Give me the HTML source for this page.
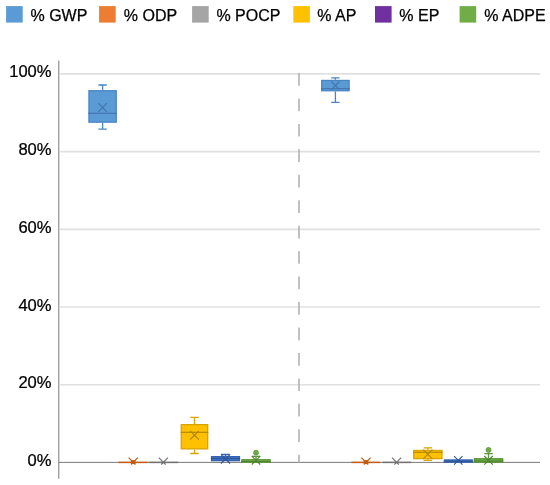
<!DOCTYPE html>
<html><head><meta charset="utf-8"><title>Chart</title>
<style>
html,body{margin:0;padding:0;background:#fff;}
svg{display:block;}
text{font-family:"Liberation Sans",Arial,sans-serif;font-size:16px;fill:#000;stroke:#000;stroke-width:0.25px;}
</style></head><body>
<svg width="550" height="485" viewBox="0 0 550 485">
<rect width="550" height="485" fill="#fff"/>
<rect x="6.1" y="6.1" width="16.6" height="16.5" fill="#5b9bd5"/>
<text x="30.5" y="20.7">% GWP</text>
<rect x="99.1" y="6.1" width="16.6" height="16.5" fill="#ed7d31"/>
<text x="123.8" y="20.7">% ODP</text>
<rect x="192.1" y="6.1" width="16.6" height="16.5" fill="#a5a5a5"/>
<text x="216.4" y="20.7">% POCP</text>
<rect x="293.3" y="6.1" width="16.6" height="16.5" fill="#ffc000"/>
<text x="317.3" y="20.7">% AP</text>
<rect x="375" y="6.1" width="16.6" height="16.5" fill="#7030a0"/>
<text x="399.3" y="20.7">% EP</text>
<rect x="459.6" y="6.1" width="16.6" height="16.5" fill="#70ad47"/>
<text x="484.2" y="20.7">% ADPE</text>
<line x1="60.2" x2="540" y1="73.85" y2="73.85" stroke="#e0e0e0" stroke-width="1.6"/>
<line x1="60.2" x2="540" y1="151.59" y2="151.59" stroke="#e0e0e0" stroke-width="1.6"/>
<line x1="60.2" x2="540" y1="229.33" y2="229.33" stroke="#e0e0e0" stroke-width="1.6"/>
<line x1="60.2" x2="540" y1="307.07" y2="307.07" stroke="#e0e0e0" stroke-width="1.6"/>
<line x1="60.2" x2="540" y1="384.81" y2="384.81" stroke="#e0e0e0" stroke-width="1.6"/>
<line x1="59" x2="540" y1="462.4" y2="462.4" stroke="#737373" stroke-width="0.95"/>
<line x1="58.8" x2="58.8" y1="60.5" y2="478.7" stroke="#737373" stroke-width="0.95"/>
<text transform="translate(51.5 77.30) scale(1.035 1.0)" text-anchor="end">100%</text>
<text transform="translate(51.5 155.04) scale(1.035 1.0)" text-anchor="end">80%</text>
<text transform="translate(51.5 232.78) scale(1.035 1.0)" text-anchor="end">60%</text>
<text transform="translate(51.5 310.52) scale(1.035 1.0)" text-anchor="end">40%</text>
<text transform="translate(51.5 388.26) scale(1.035 1.0)" text-anchor="end">20%</text>
<text transform="translate(51.5 466.00) scale(1.035 1.0)" text-anchor="end">0%</text>
<line x1="299" x2="299" y1="73" y2="462.4" stroke="#b2b2b2" stroke-width="1.6" stroke-dasharray="12.7 12.75"/>
<g stroke="#4a84c4" stroke-width="1.3" fill="none"><path d="M102.6 90.1V85M98.39999999999999 85H106.8"/><path d="M102.6 122.8V129.2M98.39999999999999 129.2H106.8"/><rect x="88.95" y="90.75" width="27.30" height="31.40" fill="#5b9bd5"/><path d="M88.3 113.3H116.89999999999999" stroke="#4273ad" stroke-width="1.1"/><path d="M98.3 103.2L106.89999999999999 111.8M106.89999999999999 103.2L98.3 111.8" stroke="#4273ad" stroke-width="1.1"/></g>
<g stroke="#c55a11" fill="none"><path d="M118.4 462.4H147.8" stroke-width="1.5"/><path d="M128.6 457.7L135.39999999999998 464.5M137.79999999999998 457.7L131.0 464.5" stroke-width="1.1"/><rect x="130.89999999999998" y="460.09999999999997" width="4.6" height="4" fill="#c55a11" stroke="none"/></g>
<g stroke="#707070" fill="none"><path d="M148.8 462.4H178.2" stroke-width="1.5"/><path d="M158.8 457.7L165.6 464.5M168.0 457.7L161.20000000000002 464.5" stroke-width="1.1"/></g>
<g stroke="#d9a300" stroke-width="1.3" fill="none"><path d="M194.5 424V417.4M190.3 417.4H198.7"/><path d="M194.5 449.5V453.5M190.3 453.5H198.7"/><rect x="181.30" y="424.65" width="26.40" height="24.20" fill="#ffc000"/><path d="M180.65 432.3H208.35" stroke="#b08600" stroke-width="1.1"/><path d="M190.2 430.9L198.8 439.5M198.8 430.9L190.2 439.5" stroke="#b08600" stroke-width="1.1"/></g>
<g stroke="#3563b0" stroke-width="1.3" fill="none"><path d="M225.5 456.0V454.5M221.3 454.5H229.7"/><rect x="211.55" y="456.65" width="27.90" height="4.00" fill="#4472c4"/><path d="M210.9 458.6H240.1" stroke="#2f5597" stroke-width="1.1"/><path d="M220.9 454.29999999999995L230.1 463.5M230.1 454.29999999999995L220.9 463.5" stroke="#2f5597" stroke-width="1.1"/></g>
<g stroke="#5a9636" stroke-width="1.3" fill="none"><path d="M256 459.1V456.4M251.8 456.4H260.2"/><rect x="241.90" y="459.75" width="28.20" height="2.40" fill="#70ad47"/><path d="M241.25 461.5H270.75" stroke="#4e8530" stroke-width="1.1"/><path d="M251.8 456.1L260.2 464.5M260.2 456.1L251.8 464.5" stroke="#4e8530" stroke-width="1.1"/></g><circle cx="256" cy="452.7" r="2.5" fill="#70ad47" stroke="#5a9636" stroke-width="0.8"/>
<g stroke="#4a84c4" stroke-width="1.3" fill="none"><path d="M335.4 79.8V77.8M331.2 77.8H339.59999999999997"/><path d="M335.4 91.4V102.3M331.2 102.3H339.59999999999997"/><rect x="321.70" y="80.45" width="27.40" height="10.30" fill="#5b9bd5"/><path d="M321.04999999999995 88.7H349.75" stroke="#4273ad" stroke-width="1.1"/><path d="M331.29999999999995 81.5L339.5 89.69999999999999M339.5 81.5L331.29999999999995 89.69999999999999" stroke="#4273ad" stroke-width="1.1"/></g>
<g stroke="#c55a11" fill="none"><path d="M351.4 462.4H380.2" stroke-width="1.5"/><path d="M361.4 457.7L368.2 464.5M370.6 457.7L363.8 464.5" stroke-width="1.1"/><rect x="363.7" y="460.09999999999997" width="4.6" height="4" fill="#c55a11" stroke="none"/></g>
<g stroke="#707070" fill="none"><path d="M382.4 462.4H411.2" stroke-width="1.5"/><path d="M392.0 457.7L398.8 464.5M401.20000000000005 457.7L394.40000000000003 464.5" stroke-width="1.1"/></g>
<g stroke="#d9a300" stroke-width="1.3" fill="none"><path d="M427.85 449.8V447.8M423.65000000000003 447.8H432.05"/><path d="M427.85 459.3V460.3M423.65000000000003 460.3H432.05"/><rect x="413.75" y="450.45" width="28.20" height="8.20" fill="#ffc000"/><path d="M413.1 452.3H442.6" stroke="#b08600" stroke-width="1.1"/><path d="M423.25 449.7L432.45000000000005 458.90000000000003M432.45000000000005 449.7L423.25 458.90000000000003" stroke="#b08600" stroke-width="1.1"/></g>
<g stroke="#3563b0" stroke-width="1.3" fill="none"><rect x="444.45" y="459.95" width="27.70" height="2.20" fill="#4472c4"/><path d="M443.8 461.3H472.8" stroke="#2f5597" stroke-width="1.1"/><path d="M454.1 456.2L462.5 464.59999999999997M462.5 456.2L454.1 464.59999999999997" stroke="#2f5597" stroke-width="1.1"/></g>
<g stroke="#5a9636" stroke-width="1.3" fill="none"><path d="M488.5 458.1V453.6M484.3 453.6H492.7"/><rect x="474.35" y="458.75" width="28.30" height="3.40" fill="#70ad47"/><path d="M473.7 461H503.3" stroke="#4e8530" stroke-width="1.1"/><path d="M484.2 456.0L492.8 464.6M492.8 456.0L484.2 464.6" stroke="#4e8530" stroke-width="1.1"/></g><circle cx="488.5" cy="449.9" r="2.5" fill="#70ad47" stroke="#5a9636" stroke-width="0.8"/>
</svg>
</body></html>
